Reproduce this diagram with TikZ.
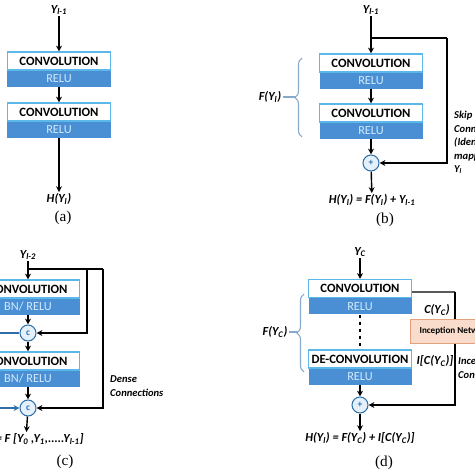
\documentclass[tikz,border=0pt]{standalone}
\usepackage{fontspec}
\setmainfont{Carlito}
\newfontfamily\capfont{Liberation Serif}
\usetikzlibrary{positioning,arrows.meta,decorations.pathreplacing}

\definecolor{boxline}{HTML}{5BB8E8}
\definecolor{relublue}{HTML}{4A8FD4}
\definecolor{relutext}{HTML}{D2EAFB}
\definecolor{sumline}{HTML}{2F6FA8}
\definecolor{sumfill}{HTML}{E4F1FB}
\definecolor{bracecol}{HTML}{86AACB}
\definecolor{incfill}{HTML}{F9DCCB}
\definecolor{incline}{HTML}{E2A07C}

\newcommand{\lsub}[1]{\textsubscript{#1}}

\tikzstyle{conv} = [rectangle, draw = boxline, line width = 0.9pt, fill = white, minimum width = 3.09cm, minimum height = 0.54cm, inner sep = 0pt, text centered, font = \fontsize{10.8}{12}\selectfont\bfseries]
\tikzstyle{relu} = [rectangle, fill = relublue, minimum width = 3.09cm, minimum height = 0.48cm, inner sep = 0pt, text centered, text = relutext, font = \fontsize{10.5}{11}\selectfont]
\tikzstyle{sum} = [circle, draw = sumline, fill = sumfill, line width = 0.9pt, minimum size = 0.48cm, inner sep = 0pt, text = sumline, font = \fontsize{8}{9}\selectfont\bfseries]
\tikzstyle{incbox} = [rectangle, draw = incline, fill = incfill, line width = 0.8pt, minimum width = 2.7cm, minimum height = 0.72cm, font = \fontsize{7.8}{10}\selectfont\bfseries]
\tikzstyle{lab} = [inner sep = 1pt, font = \fontsize{10.5}{12}\selectfont\bfseries\itshape]
\tikzstyle{note} = [inner sep = 0pt, align = left, font = \fontsize{9}{11.5}\selectfont\bfseries\itshape]
\tikzstyle{subcap} = [inner sep = 0pt, font = \capfont\fontsize{13}{15}\selectfont]
\tikzstyle{arrow} = [line width = 1.2pt, -{Stealth[length=5pt, width=5pt]}, draw = black]
\tikzstyle{line} = [line width = 1.2pt, -, draw = black]
\tikzstyle{bluearrow} = [line width = 1.1pt, -{Stealth[length=5pt, width=5pt]}, draw = sumline]
\tikzstyle{blueline} = [line width = 1.1pt, -, draw = sumline]
\tikzstyle{dashline} = [line width = 1.1pt, dashed, draw = black]
\tikzstyle{brace} = [line width = 0.9pt, draw = bracecol, decorate, decoration = {brace, amplitude = 6pt}]
\tikzstyle{braceline} = [line width = 0.9pt, -, draw = bracecol]

\begin{document}
\begin{tikzpicture}[x = 0.03cm, y = -0.03cm]
    \path[use as bounding box] (0,0) rectangle (474,474);

    % (a) plain block
    \node(ya)[lab] at (59,10) {Y\lsub{l-1}};
    \node(a1)[conv] at (59,61) {CONVOLUTION};
    \node(a1r)[relu, below = 0pt of a1] {RELU};
    \node(a2)[conv] at (59,112) {CONVOLUTION};
    \node(a2r)[relu, below = 0pt of a2] {RELU};
    \node(ha)[lab] at (59,199) {H(Y\lsub{l})};
    \node(capa)[subcap] at (63,218) {(a)};
    \draw[arrow] (ya) -- (a1);
    \draw[arrow] (a1r) -- (a2);
    \draw[arrow] (a2r) -- (ha);

    % (b) residual block
    \node(yb)[lab] at (371,10) {Y\lsub{l-1}};
    \node(b1)[conv] at (371,63) {CONVOLUTION};
    \node(b1r)[relu, below = 0pt of b1] {RELU};
    \node(b2)[conv] at (371,113) {CONVOLUTION};
    \node(b2r)[relu, below = 0pt of b2] {RELU};
    \node(bsum)[sum] at (371,163) {+};
    \node(hb)[lab] at (372,200) {H(Y\lsub{l}) = F(Y\lsub{l}) + Y\lsub{l-1}};
    \node(capb)[subcap] at (385,220) {(b)};
    \node(fb)[lab] at (270,97) {F(Y\lsub{l})};
    \node(skip)[note, anchor = north west] at (454,111) {Skip\\Connections\\(Identity\\mapping)\\Y\lsub{l}};
    \coordinate (bsplit) at (371,38);
    \coordinate (bcorner) at (447,38);
    \coordinate (bbtop) at (302,58);
    \coordinate (bbbot) at (302,137);
    \coordinate (fbtip) at (296,97);
    \draw[arrow] (yb) -- (b1);
    \draw[arrow] (b1r) -- (b2);
    \draw[arrow] (b2r) -- (bsum);
    \draw[arrow] (bsum) -- (hb);
    \draw[line] (bsplit) -- (bcorner);
    \draw[arrow] (bcorner) |- (bsum);
    \draw[brace] (bbbot) -- (bbtop);
    \draw[braceline] (fb) -- (fbtip);

    % (c) dense block
    \node(yc)[lab] at (28,255) {Y\lsub{l-2}};
    \node(c1)[conv] at (28,289) {CONVOLUTION};
    \node(c1r)[relu, below = 0pt of c1] {BN/ RELU};
    \node(cc1)[sum] at (28,333) {c};
    \node(c2)[conv] at (28,361) {CONVOLUTION};
    \node(c2r)[relu, below = 0pt of c2] {BN/ RELU};
    \node(cc2)[sum] at (28,408) {c};
    \node(hc)[lab] at (26,439) {H(Y\lsub{l}) = F [Y\lsub{0} ,Y\lsub{1},.....Y\lsub{l-1}]};
    \node(capc)[subcap] at (65,462) {(c)};
    \node(dense)[note, anchor = west] at (110,386) {Dense\\Connections};
    \coordinate (csplit) at (28,269);
    \coordinate (cmid) at (87,269);
    \coordinate (cright) at (103,269);
    \coordinate (cin1) at (-10,333);
    \coordinate (cin2) at (-10,408);
    \draw[arrow] (yc) -- (c1);
    \draw[arrow] (c1r) -- (cc1);
    \draw[arrow] (cc1) -- (c2);
    \draw[arrow] (c2r) -- (cc2);
    \draw[arrow] (cc2) -- (hc);
    \draw[line] (csplit) -- (cright);
    \draw[arrow] (cmid) |- (cc1);
    \draw[arrow] (cright) |- (cc2);
    \draw[blueline] (cin1) -- (cc1);
    \draw[bluearrow] (cin2) -- (cc2);

    % (d) inception block
    \node(yd)[lab] at (360,252) {Y\lsub{C}};
    \node(d1)[conv] at (360,288.5) {CONVOLUTION};
    \node(d1r)[relu, below = 0pt of d1] {RELU};
    \node(d2)[conv] at (360,359) {DE-CONVOLUTION};
    \node(d2r)[relu, below = 0pt of d2] {RELU};
    \node(dsum)[sum] at (360,405) {+};
    \node(hd)[lab] at (360,438) {H(Y\lsub{l}) = F(Y\lsub{C}) + I[C(Y\lsub{C})]};
    \node(capd)[subcap] at (384,463) {(d)};
    \node(cy)[lab] at (437,310) {C(Y\lsub{C})};
    \node(icy)[lab] at (435,361) {I[C(Y\lsub{C})]};
    \node(inc)[note, anchor = west] at (458,368) {Inception\\Connection};
    \node(fd)[lab] at (275,332) {F(Y\lsub{C})};
    \coordinate (dcorner) at (455,292);
    \coordinate (dbtop) at (304,294);
    \coordinate (dbbot) at (304,372);
    \coordinate (fdtip) at (298,332);
    \draw[arrow] (yd) -- (d1);
    \draw[dashline] (d1r) -- (d2);
    \draw[arrow] (d2r) -- (dsum);
    \draw[arrow] (dsum) -- (hd);
    \draw[line] ([yshift=-3pt]d1.east) -- (dcorner);
    \draw[arrow] (dcorner) |- (dsum);
    \draw[brace] (dbbot) -- (dbtop);
    \draw[braceline] (fd) -- (fdtip);
    \node(incep)[incbox] at (455,331) {Inception Network};
\end{tikzpicture}
\end{document}
